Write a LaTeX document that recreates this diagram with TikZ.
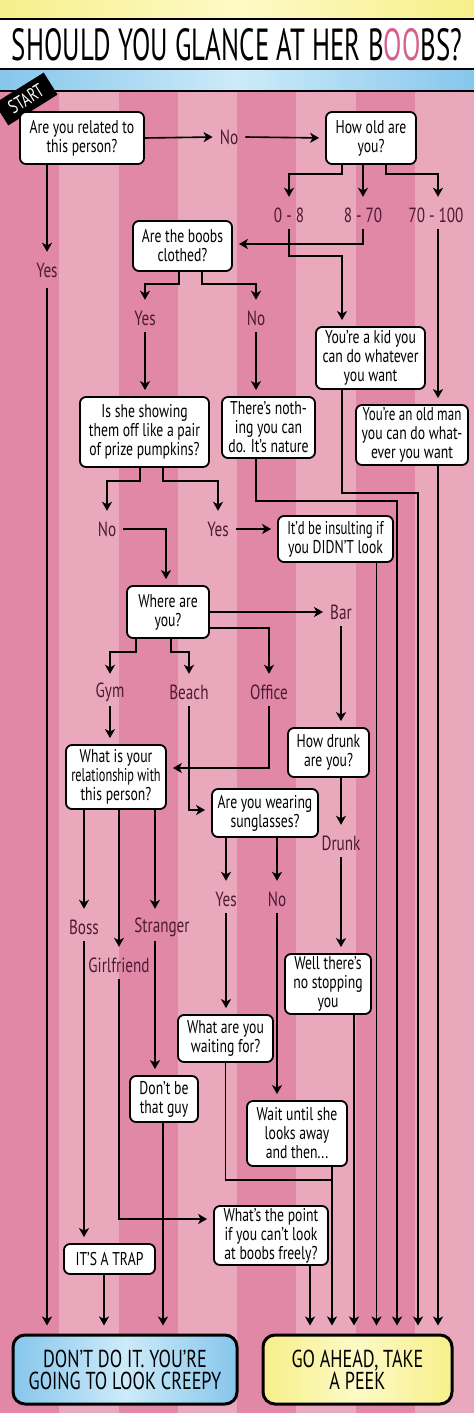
\documentclass[tikz,border=0pt]{standalone}
\usepackage{fontspec}
\usepackage{graphicx}
\setmainfont[FakeStretch=0.74]{PT Sans}
\usetikzlibrary{arrows.meta,calc}
\definecolor{stripeD}{HTML}{E088A6}
\definecolor{stripeL}{HTML}{E9A8BC}
\definecolor{labelcol}{HTML}{4E1A33}
\definecolor{yelE}{HTML}{F7EF8A}
\definecolor{yelC}{HTML}{FDFAC6}
\definecolor{bluE}{HTML}{86C6EC}
\definecolor{bluC}{HTML}{CDEBF9}
\definecolor{oocol}{HTML}{D85E8E}
\newcommand{\narrowln}[2]{\scalebox{#1}[1]{#2}}
\begin{document}
\begin{tikzpicture}[x=1pt,y=-1pt,
  qbox/.style={draw=black, line width=1.8pt, rounded corners=6pt, fill=white, inner sep=0pt, align=center, font=\fontsize{18.5}{19}\selectfont, text=black},
  lbl/.style={inner xsep=7pt, inner ysep=0pt, minimum height=36pt, font=\fontsize{20.5}{20}\selectfont, text=labelcol},
  arr/.style={line width=1.6pt, -{Stealth[length=9pt,width=10pt,inset=2.5pt]}},
  ln/.style={line width=1.6pt},
  tobox/.style={shorten >=6pt},
  tofinal/.style={shorten >=8pt},
  final/.style={draw=black, line width=3pt, rounded corners=12pt, inner sep=0pt, align=center, font=\fontsize{24.5}{22}\selectfont, text=black}
]
\useasboundingbox (0,0) rectangle (474,1413);
% background
\foreach \i in {0,2,4,6} \fill[stripeD] ({\i*59.25},92) rectangle ({(\i+1)*59.25},1413);
\foreach \i in {1,3,5,7} \fill[stripeL] ({\i*59.25},92) rectangle ({(\i+1)*59.25},1413);
\fill[left color=yelE, right color=yelE, middle color=yelC] (0,0) rectangle (474,18);
\draw[line width=2pt] (0,19) -- (474,19);
\fill[white] (0,20) rectangle (474,69);
\draw[line width=2pt] (0,69.5) -- (474,69.5);
\fill[left color=bluE, right color=bluE, middle color=bluC] (0,70.5) rectangle (474,90);
\draw[line width=2pt] (0,91) -- (474,91);
% title
\node[inner sep=0pt] (title) at (237,45) {\resizebox{450pt}{32pt}{SHOULD YOU GLANCE AT HER B\textcolor{oocol}{OO}BS?}};
% start tag
\node[fill=black, text=white, rotate=32, minimum width=58pt, minimum height=26pt, inner sep=0pt, font=\fontsize{19}{19}\selectfont] (start) at (26,99) {START};
% boxes
\node[qbox, minimum width=124pt, minimum height=52pt] (q1) at (82,138) {Are you related to\\this person?};
\node[qbox, minimum width=90pt, minimum height=52pt] (q2) at (371,138) {How old are\\you?};
\node[qbox, minimum width=99pt, minimum height=50pt] (q3) at (182.5,246) {Are the boobs\\clothed?};
\node[qbox, minimum width=109pt, minimum height=62pt] (kid) at (370.5,358) {You’re a kid you\\can do whatever\\you want};
\node[qbox, minimum width=112pt, minimum height=60pt] (oldman) at (412,435) {\narrowln{0.95}{You’re an old man}\\you can do what-\\ever you want};
\node[qbox, minimum width=129pt, minimum height=70pt] (pumpkins) at (144.5,432) {Is she showing\\them off like a pair\\of prize pumpkins?};
\node[qbox, minimum width=93pt, minimum height=61pt] (nature) at (268.5,427.5) {There’s noth-\\ing you can\\do. It’s nature};
\node[qbox, minimum width=115pt, minimum height=46pt] (insult) at (335.5,539) {\narrowln{0.93}{It’d be insulting if}\\you DIDN'T look};
\node[qbox, minimum width=82pt, minimum height=52pt] (where) at (168,612) {Where are\\you?};
\node[qbox, minimum width=81pt, minimum height=49pt] (drunkq) at (328.5,752.5) {How drunk\\are you?};
\node[qbox, minimum width=100pt, minimum height=64pt] (rel) at (116,777) {What is your\\\narrowln{0.9}{relationship with}\\this person?};
\node[qbox, minimum width=106pt, minimum height=48pt] (sun) at (265,813) {Are you wearing\\sunglasses?};
\node[qbox, minimum width=86pt, minimum height=60pt] (stop) at (328,984) {Well there’s\\no stopping\\you};
\node[qbox, minimum width=95pt, minimum height=47pt] (waiting) at (225.5,1038.5) {What are you\\waiting for?};
\node[qbox, minimum width=68pt, minimum height=46pt] (thatguy) at (164,1099) {Don’t be\\that guy};
\node[qbox, minimum width=100pt, minimum height=65pt] (waitsh) at (297,1133.5) {Wait until she\\looks away\\and then...};
\node[qbox, minimum width=114pt, minimum height=59pt] (point) at (271,1235.5) {What’s the point\\if you can’t look\\at boobs freely?};
\node[qbox, minimum width=91pt, minimum height=30pt] (trap) at (109.5,1259) {IT'S A TRAP};
\node[final, minimum width=224pt, minimum height=69pt, left color=bluE, right color=bluE, middle color=bluC] (creepy) at (125,1369.5) {DON’T DO IT. YOU’RE\\GOING TO LOOK CREEPY};
\node[final, minimum width=189pt, minimum height=69pt, left color=yelE, right color=yelE, middle color=yelC] (peek) at (357.5,1369.5) {GO AHEAD, TAKE\\A PEEK};
% labels
\node[lbl] (no1) at (229,137) {No};
\node[lbl] (l08) at (289,215) {0 - 8};
\node[lbl] (l870) at (363,215) {8 - 70};
\node[lbl] (l70100) at (436,215) {70 - 100};
\node[lbl] (yes1) at (47,270) {Yes};
\node[lbl] (cyes) at (145,318) {Yes};
\node[lbl] (cno) at (256,318) {No};
\node[lbl] (pno) at (107,529) {No};
\node[lbl] (pyes) at (218,529) {Yes};
\node[lbl] (bar) at (341,612) {Bar};
\node[lbl] (gym) at (110,692) {Gym};
\node[lbl] (beach) at (189,692) {Beach};
\node[lbl] (office) at (269,692) {Office};
\node[lbl] (drunk) at (341,843) {Drunk};
\node[lbl] (boss) at (84,927) {Boss};
\node[lbl] (stranger) at (162,927) {Stranger};
\node[lbl] (gf) at (119,965) {Girlfriend};
\node[lbl] (syes) at (226,899) {Yes};
\node[lbl] (sno) at (277,899) {No};
% connectors
\draw[arr] (q1.east) -- (no1.west);
\draw[arr, tobox] (no1.east) -- (q2.west);
\draw[arr] (q1.south -| yes1) -- (yes1.north);
\draw[arr, tofinal] (yes1.south) -- (yes1.south |- creepy.north);
\draw[arr] ([xshift=-29pt]q2.south) -- ++(0,9) -| (l08.north);
\draw[arr] (q2.south -| l870) -- (l870.north);
\draw[arr] ([xshift=15pt]q2.south) -- ++(0,9) -| ([xshift=2pt]l70100.north);
\draw[arr, tobox] ([yshift=4pt]l870.south) |- ([yshift=2pt]q3.east);
\draw[arr, tobox] ([yshift=4pt]l08.south) -- ++(0,27) -| ([xshift=-28.5pt]kid.north);
\draw[arr, tobox] ([xshift=2pt,yshift=4pt]l70100.south) -- ([xshift=2pt]l70100.south |- oldman.north);
\draw[arr] ([xshift=-3.5pt]q3.south) -- ++(0,12) -| (cyes.north);
\draw[arr] ([xshift=19.5pt]q3.south) -- ++(0,12) -| (cno.north);
\draw[arr, tobox] ([yshift=4pt]cyes.south) -- (cyes.south |- pumpkins.north);
\draw[arr, tobox] ([yshift=4pt]cno.south) -- (cno.south |- nature.north);
\draw[arr] ([xshift=-4.5pt]pumpkins.south) -- ++(0,13) -| (pno.north);
\draw[arr] ([xshift=18.5pt]pumpkins.south) -- ++(0,13) -| (pyes.north);
\draw[arr, tobox] (pyes.east) -- (pyes.east -| insult.west);
\draw[arr, tobox] (pno.east) -| ([xshift=-2pt]where.north);
\draw[arr] (where.east) -- (bar.west);
\draw[arr] ([xshift=-32pt]where.south) -- ++(0,13) -| (gym.north);
\draw[arr] ([xshift=3pt]where.south) -- ++(0,13) -| (beach.north);
\draw[arr] ([yshift=-16pt]where.east) -| (office.north);
\draw[arr, tobox] ([yshift=4pt]gym.south) -- (gym.south |- rel.north);
\draw[arr, tobox] ([yshift=4pt]office.south) |- ([yshift=9pt]rel.east);
\draw[arr, tobox] ([yshift=4pt]beach.south) |- ([yshift=3pt]sun.west);
\draw[arr, tobox] ([yshift=4pt]bar.south) -- (bar.south |- drunkq.north);
\draw[arr] (drunkq.south -| drunk) -- (drunk.north);
\draw[arr, tobox] ([yshift=4pt]drunk.south) -- (drunk.south |- stop.north);
\draw[arr] (rel.south -| boss) -- (boss.north);
\draw[arr] ([xshift=39pt]rel.south) -- ([xshift=39pt]rel.south |- stranger.north);
\draw[arr] ([xshift=3pt]rel.south) -- ([xshift=3pt]rel.south |- gf.north);
\draw[arr] (sun.south -| syes) -- (syes.north);
\draw[arr] (sun.south -| sno) -- (sno.north);
\draw[arr, tobox] ([yshift=4pt]syes.south) -- (syes.south |- waiting.north);
\draw[arr, tobox] ([yshift=4pt]sno.south) -- (sno.south |- waitsh.north);
\draw[arr, tobox] ([xshift=-7pt,yshift=4pt]stranger.south) -- ([xshift=-7pt]stranger.south |- thatguy.north);
\draw[arr, tobox] ([yshift=4pt]boss.south) -- (boss.south |- trap.north);
\draw[arr, tobox] ([yshift=4pt]gf.south) |- ([yshift=16.5pt]point.west);
\draw[arr, tofinal] ([xshift=-5.5pt]trap.south) -- ([xshift=-5.5pt]trap.south |- creepy.north);
\draw[arr, tofinal] ([xshift=-1pt]thatguy.south) -- ([xshift=-1pt]thatguy.south |- creepy.north);
\draw[arr, tofinal] ([xshift=39pt]point.south) -- ([xshift=39pt]point.south |- peek.north);
\draw[ln] (waiting.south) |- ([xshift=35pt,yshift=-13pt]waitsh.south);
\draw[arr, tofinal] ([xshift=35pt]waitsh.south) -- ([xshift=35pt]waitsh.south |- peek.north);
\draw[arr, tofinal] ([xshift=26pt]stop.south) -- ([xshift=26pt]stop.south |- peek.north);
\draw[arr, tofinal] ([xshift=41pt]insult.south) -- ([xshift=41pt]insult.south |- peek.north);
\draw[arr, tofinal] ([xshift=-12.5pt]nature.south) -- ++(0,42) -| ([xshift=39.5pt]peek.north);
\draw[arr, tofinal] ([xshift=-28.5pt]kid.south) -- ++(0,103) -| ([xshift=60.5pt]peek.north);
\draw[arr, tofinal] ([xshift=26pt]oldman.south) -- ([xshift=26pt]oldman.south |- peek.north);
\end{tikzpicture}
\end{document}
